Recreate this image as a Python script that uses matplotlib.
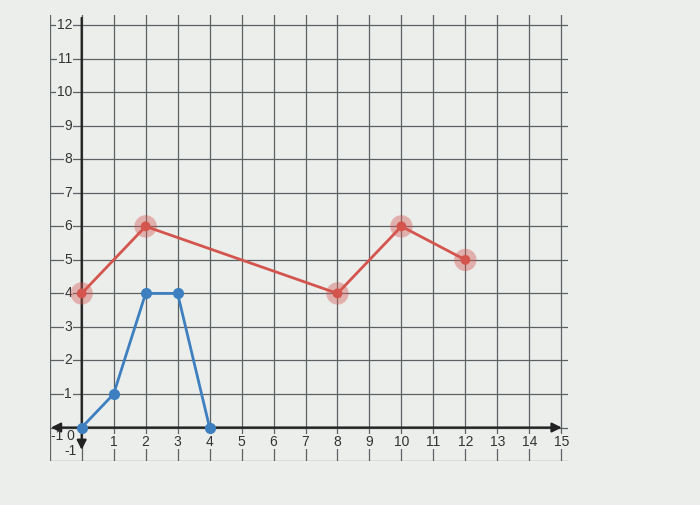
import matplotlib
matplotlib.use('Agg')
import matplotlib.pyplot as plt

# data
red_x = [0, 2, 8, 10, 12]
red_y = [4, 6, 4, 6, 5]
blue_x = [0, 1, 2, 3, 4]
blue_y = [0, 1, 4, 4, 0]
x_ticks = list(range(1, 16))
y_ticks = list(range(1, 13))

RED = '#d4554e'
BLUE = '#3d7fbf'

plt.rcParams['font.family'] = ['Liberation Sans', 'DejaVu Sans']

fig = plt.figure(figsize=(7, 5.05), dpi=100, facecolor='#eceeec')
ax = fig.add_axes([0.071, 0.087, 0.74, 0.883])
ax.set_facecolor('#eceeec')
ax.set_xlim(-1, 15.2)
ax.set_ylim(-1, 12.3)
for s in ax.spines.values():
    s.set_visible(False)
ax.set_xticks([])
ax.set_yticks([])

# grid
for gx in range(-1, 16):
    ax.axvline(gx, color='#5c6161', lw=0.9, zorder=1)
for gy in range(-1, 13):
    ax.axhline(gy, color='#5c6161', lw=0.9, zorder=1)

# axes with arrows
ax.annotate('', xy=(15.1, 0), xytext=(-1.05, 0),
            arrowprops=dict(arrowstyle='<|-|>', color='#222222', lw=1.6,
                            mutation_scale=14), zorder=3)
ax.annotate('', xy=(0, -0.75), xytext=(0, 12.3),
            arrowprops=dict(arrowstyle='-|>', color='#222222', lw=1.6,
                            mutation_scale=14), zorder=3)

# tick labels
for t in x_ticks:
    ax.text(t, -0.42, str(t), ha='center', va='center', fontsize=10, color='#333333',
            bbox=dict(facecolor='#eceeec', edgecolor='none', pad=0.5), zorder=4)
for t in y_ticks:
    ax.text(-0.3, t, str(t), ha='right', va='center', fontsize=10, color='#333333',
            bbox=dict(facecolor='#eceeec', edgecolor='none', pad=0.5), zorder=4)
ax.text(-0.6, -0.24, '-1 0', ha='center', va='center', fontsize=10, color='#333333', zorder=4)
ax.text(-0.35, -0.7, '-1', ha='center', va='center', fontsize=10, color='#333333', zorder=4)

# series
ax.plot(red_x, red_y, color=RED, lw=2, zorder=5)
ax.scatter(red_x, red_y, s=260, color=RED, alpha=0.4, edgecolors='none', zorder=6)
ax.scatter(red_x, red_y, s=50, color=RED, edgecolors='none', zorder=7)
ax.plot(blue_x, blue_y, color=BLUE, lw=2, marker='o', markersize=7, zorder=5)

fig.savefig('out.png', dpi=100, facecolor=fig.get_facecolor())
